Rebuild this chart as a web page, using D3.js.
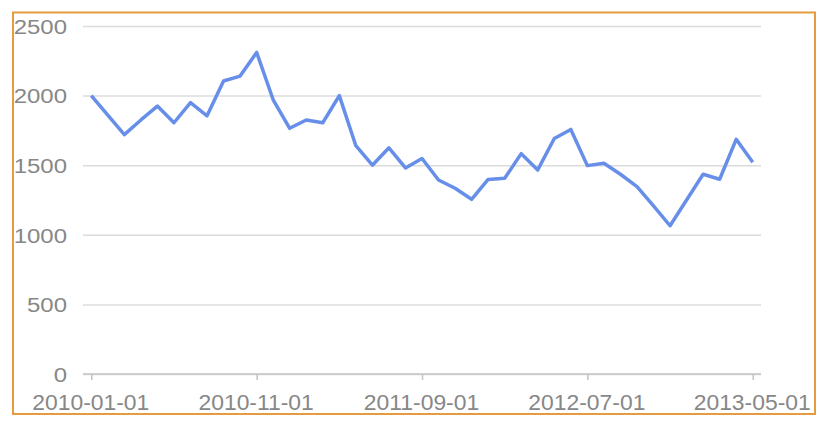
<!DOCTYPE html>
<html>
<head>
<meta charset="utf-8">
<script src="https://cdn.jsdelivr.net/npm/d3@7"></script>
<style>
  body { margin: 0; background: #fff; }
  text { font-family: "Liberation Sans", Arial, Helvetica, sans-serif; }
</style>
</head>
<body>
<svg id="chart" width="838" height="434"></svg>
<script>
// monthly values, 2010-01 .. 2013-05
const months = d3.timeMonths(new Date(2010, 0, 1), new Date(2013, 5, 1));
const values = [
    2000, 1860, 1720, 1825, 1925, 1805, 1950, 1855, 2105, 2140,
    2310, 1970, 1765, 1825, 1805, 2000, 1640, 1500, 1625, 1480,
    1548, 1394, 1334, 1255, 1398, 1406, 1583, 1466, 1692, 1757,
    1497, 1514, 1435, 1346, 1207, 1065, 1250, 1435, 1399, 1686,
    1521
];
const yTicks = [0, 500, 1000, 1500, 2000, 2500];
const labelEvery = 10;

const fmt = d3.timeFormat("%Y-%m-%d");
const categories = months.map(fmt);
const data = categories.map((c, i) => ({date: c, value: values[i]}));

const svg = d3.select("#chart");
const margin = {top: 26, left: 83, right: 77, bottom: 60},
    width = 838 - margin.left - margin.right,
    height = 434 - margin.top - margin.bottom;

// frame
svg.append("rect")
    .attr("x", 13).attr("y", 12.5)
    .attr("width", 802).attr("height", 401.5)
    .attr("fill", "none")
    .attr("stroke", "#e59b3f")
    .attr("stroke-width", 2);

const g = svg.append("g").attr("transform", `translate(${margin.left},${margin.top})`);

const x = d3.scalePoint().domain(categories).range([0, width]).padding(0.5);
const y = d3.scaleLinear().domain([0, 2500]).range([height, 0]);

// grid + y labels
const yAxis = g.append("g")
    .call(d3.axisLeft(y).tickValues(yTicks).tickFormat(d3.format("d")).tickSize(-width));
yAxis.select(".domain").remove();
yAxis.selectAll(".tick line")
    .attr("stroke", "#dcdcdc")
    .attr("stroke-width", 1.5);
yAxis.selectAll(".tick text")
    .attr("fill", "#878787")
    .attr("font-size", "20.5px")
    .attr("text-anchor", "end")
    .attr("x", -16 / 1.17)
    .attr("dy", "0.36em")
    .attr("transform", "scale(1.17,1)");

// x axis
const xTickVals = categories.filter((d, i) => i % labelEvery === 0);
const xAxis = g.append("g")
    .attr("transform", `translate(0,${height})`)
    .call(d3.axisBottom(x).tickValues(xTickVals).tickSize(6).tickSizeOuter(0));
xAxis.select(".domain")
    .attr("d", `M0,0H${width}`)
    .attr("stroke", "#c4c4c4")
    .attr("stroke-width", 1.5);
xAxis.selectAll(".tick line")
    .attr("stroke", "#c4c4c4")
    .attr("stroke-width", 1.5);
xAxis.selectAll(".tick text")
    .attr("fill", "#878787")
    .attr("font-size", "21.4px")
    .attr("y", 0)
    .attr("dy", 0)
    .attr("transform", "translate(-1,35.5) scale(1.07,1)");

// line
const line = d3.line()
    .x(d => x(d.date))
    .y(d => y(d.value));

g.append("path")
    .datum(data)
    .attr("fill", "none")
    .attr("stroke", "#678fe9")
    .attr("stroke-width", 3.5)
    .attr("stroke-linejoin", "round")
    .attr("d", line);
</script>
</body>
</html>
